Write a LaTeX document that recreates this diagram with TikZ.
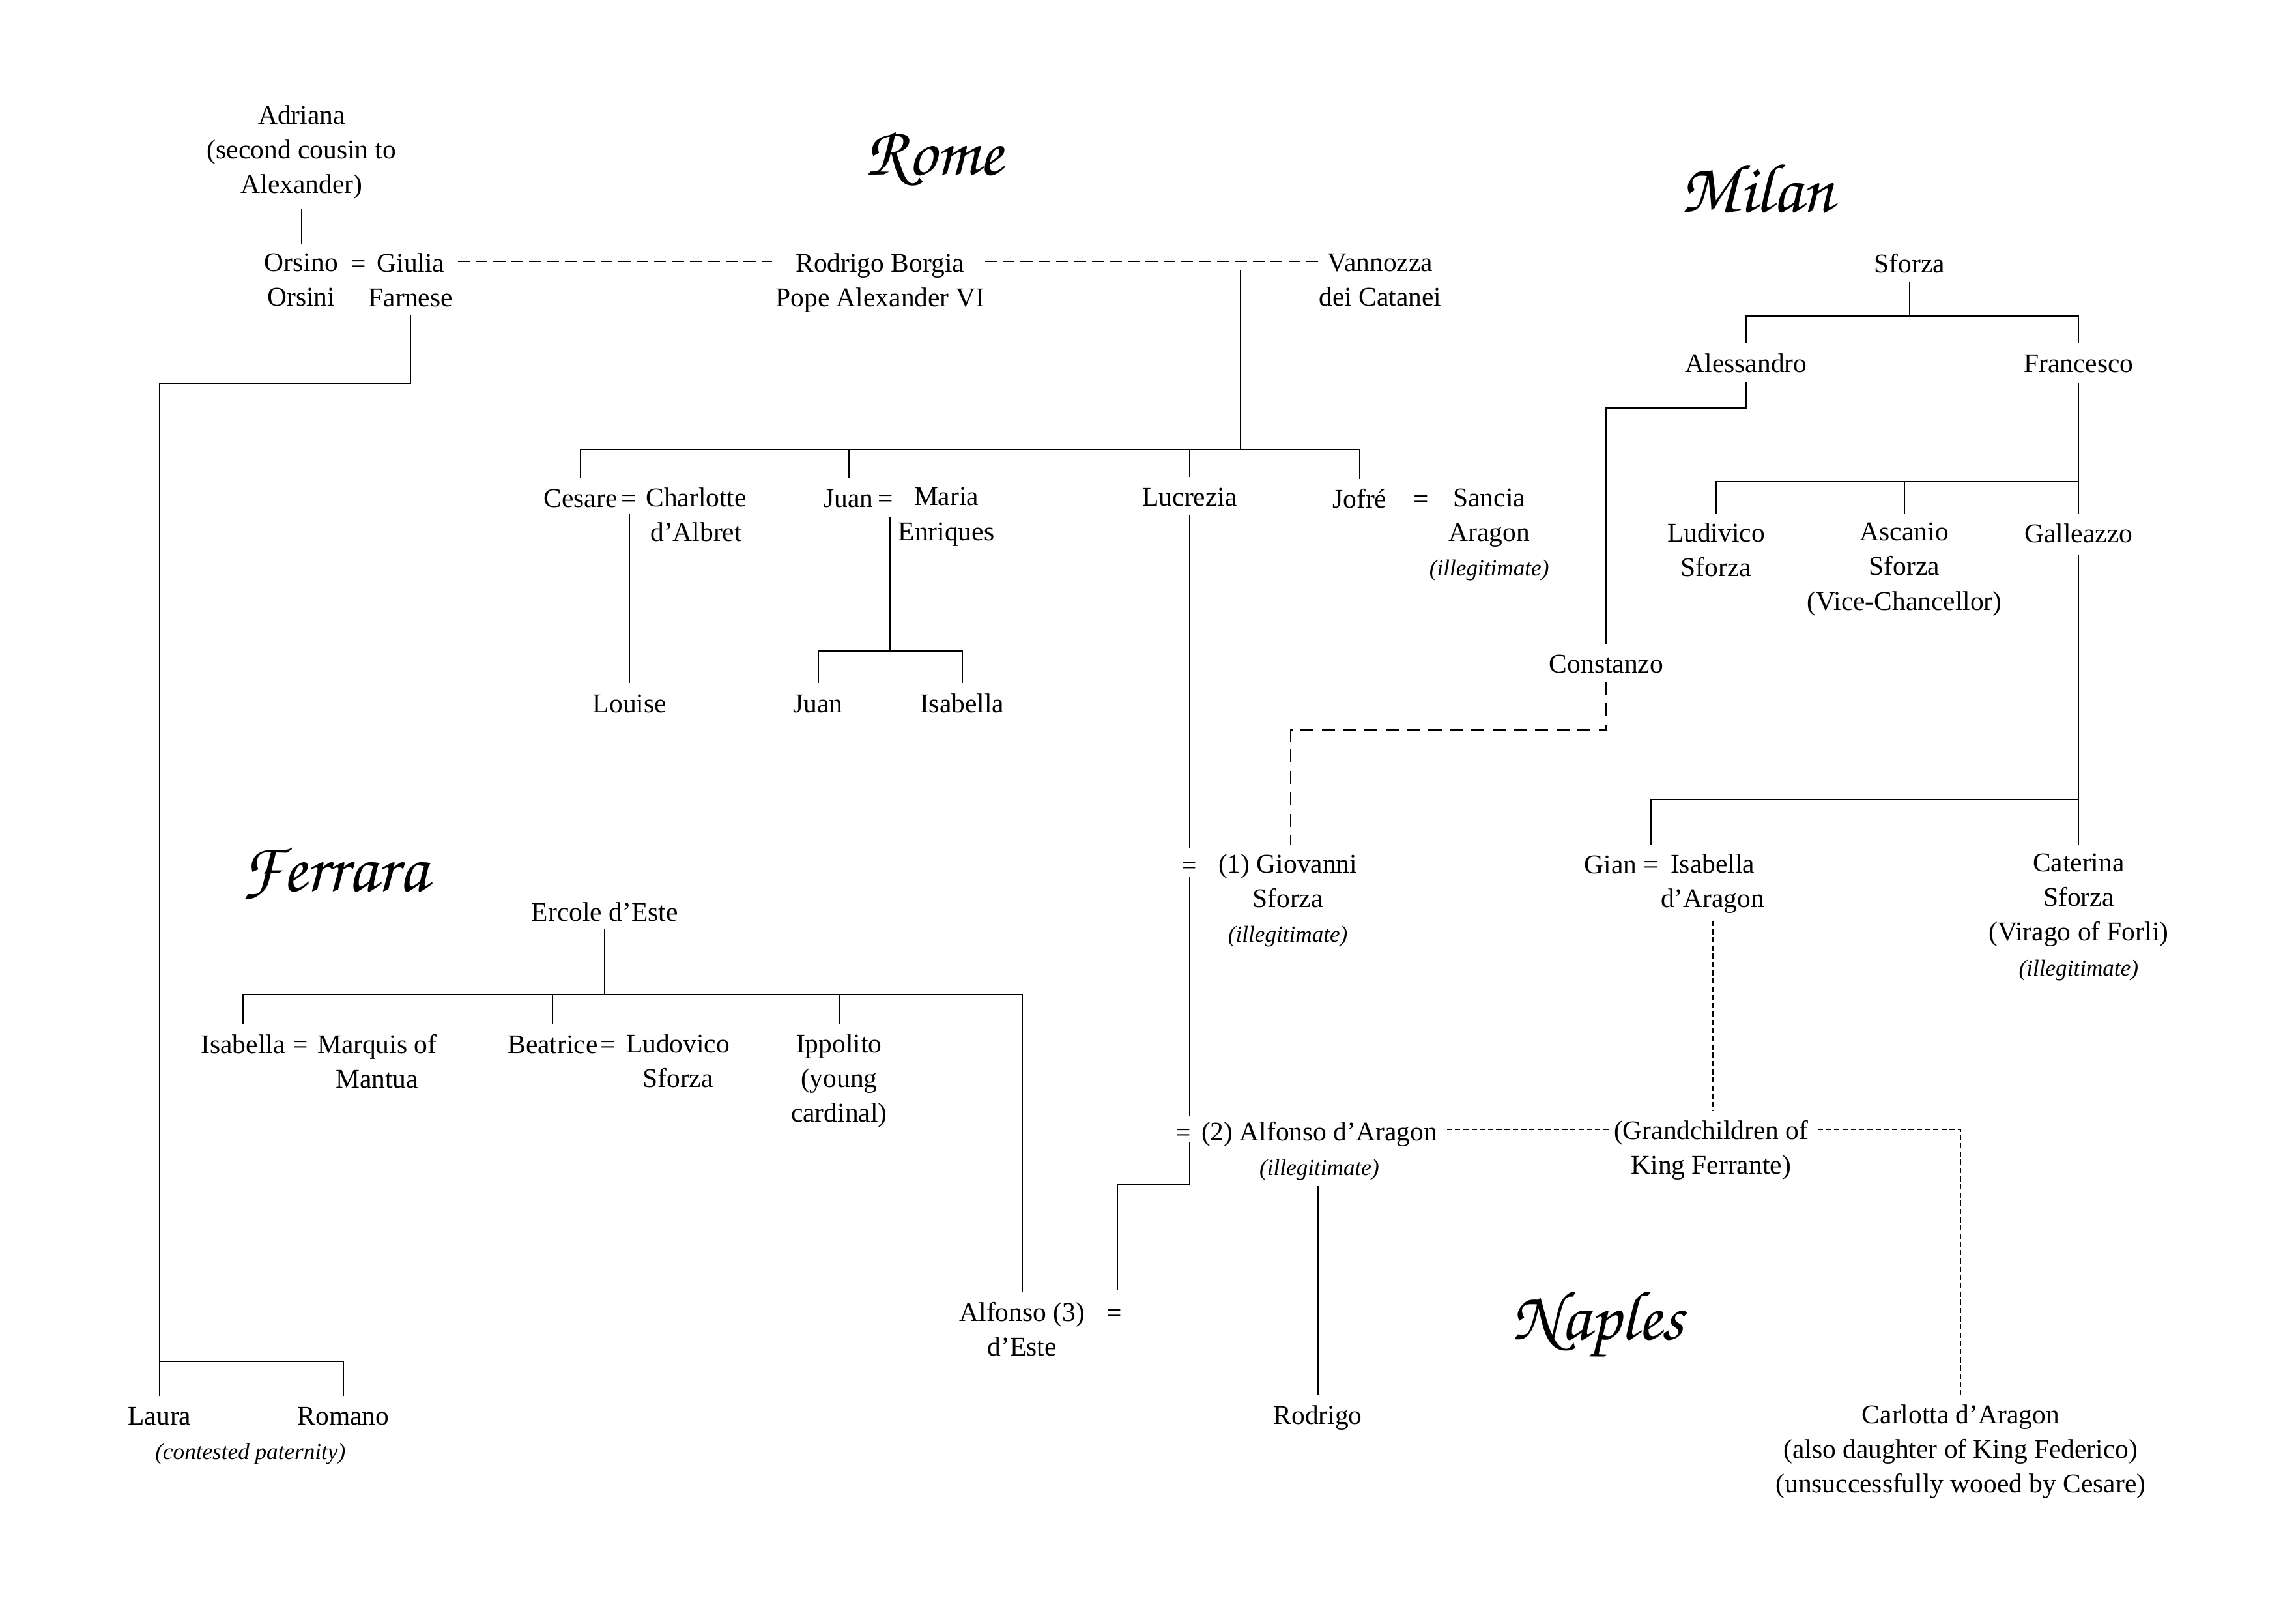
\documentclass[tikz,border=0pt]{standalone}
\usepackage[T1,TU]{fontenc}
\usepackage{fontspec}
\setmainfont{Liberation Serif}
\usetikzlibrary{calc}
\newcommand{\illeg}{{\fontsize{10}{15.1}\selectfont\itshape (illegitimate)}}
\newcommand{\scriptfnt}{\fontencoding{T1}\fontfamily{pzc}\fontseries{mb}\fontshape{it}\fontsize{30.5}{32}\selectfont}
\begin{document}
\begin{tikzpicture}[x=0.022474cm,y=-0.022474cm,
  person/.style={anchor=north,yshift=4.0pt,inner sep=0pt,align=center,
     font=\fontsize{11.8}{15.1}\selectfont,
     execute at begin node={\rule{0pt}{8.5pt}}},
  regionname/.style={inner sep=0pt,font=\scriptfnt},
  kin/.style={line width=0.6pt},
  rdash/.style={line width=0.6pt,dash pattern=on 5.2pt off 2.6pt},
  ldash/.style={line width=0.6pt,dash pattern=on 5.7pt off 3.6pt},
  sdash/.style={line width=0.5pt,dash pattern=on 2.3pt off 1.3pt}]
\useasboundingbox (0,0) rectangle (1568,1108.8);

% region names
\node[regionname] (rome) at (638,108) {Rome};
\node[regionname] (milan) at (1200,128) {Milan};
\node[regionname] (ferrara) at (228.5,597) {Ferrara};
\node[regionname] (naples) at (1091,905) {Naples};

% Rome
\node[person] (adriana) at (206,78) {Adriana\\(second cousin to\\Alexander)};
\node[person] (orsino) at (205.7,179) {Orsino\\Orsini};
\node[person] (eqo) at (244.7,179) {=};
\node[person] (giulia) at (280.5,179) {Giulia\\Farnese};
\node[person] (rodrigo) at (601,179) {Rodrigo Borgia\\Pope Alexander VI};
\node[person] (vannozza) at (942.6,179) {Vannozza\\dei Catanei};
\node[person] (cesare) at (396.5,339) {Cesare};
\node[person] (eqc) at (429.5,339) {=};
\node[person] (charlotte) at (475.5,339) {Charlotte\\d’Albret};
\node[person] (juan) at (579.6,339) {Juan};
\node[person] (eqj) at (604.7,339) {=};
\node[person] (maria) at (646.3,339) {Maria\\Enriques};
\node[person] (lucrezia) at (812.5,338) {Lucrezia};
\node[person] (jofre) at (928.5,339.6) {Jofré};
\node[person] (eqs) at (970.5,339.6) {=};
\node[person] (sancia) at (1017,339.6) {Sancia\\Aragon\\\illeg};
\node[person] (louise) at (430,479) {Louise};
\node[person] (juanjr) at (558.7,479) {Juan};
\node[person] (isabellaj) at (657,479) {Isabella};
\node[person] (laura) at (109,965.6) {Laura};
\node[person] (romano) at (234.5,965.6) {Romano};
\node[person,font=\fontsize{10}{15.1}\selectfont\itshape] (contested) at (171,989) {(contested paternity)};

% Milan
\node[person] (sforza) at (1304,179) {Sforza};
\node[person] (alessandro) at (1192.5,247) {Alessandro};
\node[person] (francesco) at (1419.5,247) {Francesco};
\node[person] (ludivico) at (1172,363) {Ludivico\\Sforza};
\node[person] (ascanio) at (1300.5,363) {Ascanio\\Sforza\\(Vice-Chancellor)};
\node[person] (galleazzo) at (1419.5,363) {Galleazzo};
\node[person] (constanzo) at (1097,452) {Constanzo};
\node[person] (gian) at (1100,589) {Gian};
\node[person] (eqg) at (1127.5,589) {=};
\node[person] (isabellag) at (1169.6,589) {Isabella\\d’Aragon};
\node[person] (caterina) at (1419.5,589) {Caterina\\Sforza\\(Virago of Forli)\\\illeg};

% Lucrezia's husbands and Naples
\node[person] (eqa) at (812,589.5) {=};
\node[person] (giovanni) at (879.5,589) {(1) Giovanni\\Sforza\\\illeg};
\node[person] (eqb2) at (808,772) {=};
\node[person] (alfonso) at (901,772) {(2) Alfonso d’Aragon\\\illeg};
\node[person] (grandch) at (1168.5,771) {(Grandchildren of\\King Ferrante)};
\node[person] (rodrigojr) at (900,965) {Rodrigo};
\node[person] (carlotta) at (1339,965) {Carlotta d’Aragon\\(also daughter of King Federico)\\(unsuccessfully wooed by Cesare)};
\node[person] (alfonso3) at (698,895) {Alfonso (3)\\d’Este};
\node[person] (eq3) at (761,895) {=};

% Ferrara
\node[person] (ercole) at (413,621.6) {Ercole d’Este};
\node[person] (isabellae) at (166,712) {Isabella};
\node[person] (eqi) at (205,712) {=};
\node[person] (marquis) at (257.5,712) {Marquis of\\Mantua};
\node[person] (beatrice) at (377.5,712) {Beatrice};
\node[person] (eqbe) at (415,712) {=};
\node[person] (ludovico) at (463,712) {Ludovico\\Sforza};
\node[person] (ippolito) at (573,712) {Ippolito\\(young\\cardinal)};

% junction coordinates
\coordinate (rowR) at (0,178.5);
\coordinate (lbend) at (109,262);
\coordinate (lrbar) at (109,929.5);
\coordinate (rvdrop) at (847,184.5);
\coordinate (sibY) at (0,307);
\coordinate (cesm) at (430,351);
\coordinate (juanm) at (608,353);
\coordinate (jkbar) at (608,444.5);
\coordinate (lucA) at (812.5,579);
\coordinate (lucB) at (812.5,599);
\coordinate (lucC) at (812.5,762);
\coordinate (lucD) at (812.5,780);
\coordinate (lucE) at (812.5,809);
\coordinate (alfE) at (763,809);
\coordinate (alfF) at (763,880.5);
\coordinate (sancJ) at (1012,771);
\coordinate (mbar) at (1304,216);
\coordinate (abend) at (1097,278.5);
\coordinate (fbar) at (1419.5,329);
\coordinate (gbar) at (1419.5,546);
\coordinate (cgbend) at (881.5,498.5);
\coordinate (carJ) at (1340,771);
\coordinate (ebar) at (413,679);

% Rome connectors
\draw[kin] ([yshift=-3.9pt]adriana.south) -- ([yshift=4pt]adriana.south |- orsino.north);
\draw[rdash] ([xshift=2pt]giulia.east |- rowR) -- ([xshift=-1.5pt]rodrigo.west |- rowR);
\draw[rdash] (rodrigo.east |- rowR) -- (vannozza.west |- rowR);
\draw[kin] (rvdrop) -- (rvdrop |- sibY);
\draw[kin] ([yshift=4pt]cesare.north) |- (jofre.north |- sibY) -- ([yshift=4pt]jofre.north);
\draw[kin] (juan.north |- sibY) -- ([yshift=4pt]juan.north);
\draw[kin] (lucrezia.north |- sibY) -- ([yshift=4pt]lucrezia.north);
\draw[kin] (cesm) -- ([yshift=4pt]louise.north);
\draw[kin] (juanm) -- (jkbar);
\draw[kin] ([yshift=4pt]juanjr.north) |- (jkbar) -| ([yshift=4pt]isabellaj.north);
\draw[kin] ([yshift=-3.5pt]giulia.south) |- (lbend) -- ([yshift=4pt]laura.north);
\draw[kin] (lrbar) -| ([yshift=4pt]romano.north);

% Lucrezia's line
\draw[kin] ([yshift=-3.8pt]lucrezia.south) -- (lucA);
\draw[kin] (lucB) -- (lucC);
\draw[kin] (lucD) -- (lucE) -- (alfE) -- (alfF);

% Naples connectors
\draw[sdash] ([yshift=-1.5pt]sancia.south -| sancJ) -- (sancJ);
\draw[sdash] ([xshift=4pt]alfonso.east |- sancJ) -- ([xshift=-1.5pt]grandch.west |- sancJ);
\draw[sdash] ([xshift=4pt]grandch.east |- carJ) -| ([yshift=4pt]carlotta.north);
\draw[sdash] ([yshift=-3.1pt]isabellag.south) -- ([yshift=4pt]isabellag.south |- grandch.north);
\draw[kin] ([yshift=-2.1pt]alfonso.south -| rodrigojr.north) -- ([yshift=4pt]rodrigojr.north);

% Milan connectors
\draw[kin] ([yshift=-3.8pt]sforza.south) -- (mbar);
\draw[kin] ([yshift=4pt]alessandro.north) |- (mbar) -| ([yshift=4pt]francesco.north);
\draw[kin] ([yshift=-3.8pt]alessandro.south) |- (abend) -- ([yshift=4pt]constanzo.north);
\draw[kin] ([yshift=-4pt]francesco.south) -- ([yshift=4pt]galleazzo.north);
\draw[kin] ([yshift=4pt]ludivico.north) |- (fbar);
\draw[kin] (ascanio.north |- fbar) -- ([yshift=4pt]ascanio.north);
\draw[kin] ([yshift=-5pt]galleazzo.south) -- ([yshift=4pt]caterina.north);
\draw[kin] ([yshift=4pt]gian.north -| eqg.north) |- (gbar);
\draw[ldash] ([yshift=-3.7pt]constanzo.south) |- (cgbend) -- ([yshift=4pt]cgbend |- giovanni.north);

% Ferrara connectors
\draw[kin] ([yshift=-3.2pt]ercole.south) -- (ebar);
\draw[kin] ([yshift=4pt]isabellae.north) |- (ebar) -| ([yshift=4pt]alfonso3.north);
\draw[kin] (beatrice.north |- ebar) -- ([yshift=4pt]beatrice.north);
\draw[kin] (ippolito.north |- ebar) -- ([yshift=4pt]ippolito.north);
\end{tikzpicture}
\end{document}
